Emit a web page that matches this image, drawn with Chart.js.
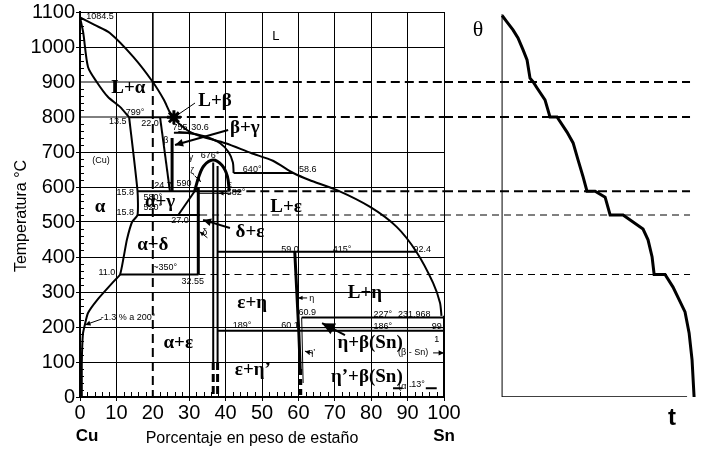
<!DOCTYPE html>
<html>
<head>
<meta charset="utf-8">
<script src="https://cdn.jsdelivr.net/npm/chart.js@4.4.1/dist/chart.umd.min.js"></script>
<style>
  html, body { margin: 0; padding: 0; background: #fff; }
  #wrap { position: relative; width: 710px; height: 455px; overflow: hidden; background: #fff; }
  #phase { position: absolute; left: 0; top: 0; }
  #cool { position: absolute; left: 444px; top: 0; }
</style>
</head>
<body>
<div id="wrap">
  <canvas id="phase" width="470" height="455"></canvas>
  <canvas id="cool" width="266" height="455"></canvas>
</div>
<script>
// ---- phase diagram data: [% Sn, temperature °C] ----
const liquidus = [[0,1084.5],[4,1063],[8.2,1040],[14.7,971],[20,900],[23,850],[25.5,799],[30.6,755],[40,725],[47,697],[53,675],[58.6,640],[63,620],[70.6,591],[79.7,543],[87,486],[92.4,415],[97,326],[98.9,269],[99.3,232]];
const alphaSolidus = [[0,1084.5],[0.9,1040],[2.2,943],[4.6,900],[7.7,857],[11,829],[13.5,799]];
const alphaSolvus = [[13.5,799],[15.8,588],[15.8,520],[14.3,500],[12.9,450],[12,400],[11,350],[9.6,334],[4.7,277],[2.2,240],[1.3,205],[0.8,180],[0.5,100],[0.5,0]];
const peritectic799 = [[13.5,799],[25.5,799]];
const grid800Left = [[0,800],[13.5,800]];
const grid900Left = [[0,900],[20,900]];
const grid20Top = [[20,1100],[20,900]];
const betaLeft = [[22,799],[24.7,588]];
const betaRight = [[25.3,740],[25.3,588]];
const peritectic755 = [[25.8,755],[30.6,755]];
const gammaCurve = [[27,757],[31,752],[35,742],[38.5,725],[40.8,700],[42,670],[42.2,640]];
const dome = [[31.5,588],[32.5,625],[34,660],[36.5,677],[39,662],[40.5,630],[41,588]];
const line640 = [[42.2,640],[58.6,640]];
const line588 = [[15.8,588],[38,588]];
const line582 = [[32.5,582],[41.5,582]];
const line520 = [[15.8,520],[33,520]];
const line350 = [[11,350],[32.55,350]];
const deltaLine = [[32.5,600],[32.5,350]];
const gammaDelta = [[27,520],[32.3,600]];
const epsLeft = [[36.6,670],[36.6,100]];
const epsRight = [[37.8,660],[37.8,100]];
const epsLeftLow = [[36.6,100],[36.6,0]];
const epsRightLow = [[37.8,100],[37.8,0]];
const line415 = [[37.8,415],[92.4,415]];
const etaThick = [[59,415],[60.1,189],[60.5,80]];
const etaLow = [[60.5,80],[60.5,0]];
const etaThin = [[60.9,227],[61.3,40]];
const line227 = [[60.9,227],[100,227]];
const line198 = [[61,198],[100,198]];
const line189 = [[37.8,189],[100,189]];
const snSide = [[100,232],[100,0]];
const dash13a = [[86,25],[88.5,25]];
const dash13b = [[95,25],[98,25]];
const alloyLine = [[20,900],[20,0]];
const star = [[25.8,799]];

// dashed temperature levels, also carried onto the cooling curve
const levelsThick = [900, 800, 588];
const levelsThin = [520, 350];
const levelStartThick = [20, 25.5, 38];
const levelStartThin = [33, 32.55];

// ---- cooling curve: time (arb. units), temperature °C ----
const coolTime = [0,2.7,5.9,8.6,11.4,13.5,15.1,16.8,18.9,23.2,25.9,29.7,35.1,38.4,41.1,43.8,45.9,50.3,55.7,58.4,65.4,70.8,76.2,78.9,81.1,82.2,88.1,92.4,98.9,101.1,102.7,103.8];
const coolTemp = [1090,1071,1049,1026,991,963,911,900,883,849,800,800,757,726,677,629,588,588,571,520,520,500,480,449,400,350,350,314,243,183,106,0];

// ---- labels [text, % Sn, °C] ----
const phaseLabels = [
  ['L+α',13.3,883],['L+β',37.1,846],['β+γ',45.3,769],['α',5.5,543],['α+γ',22,557],
  ['α+δ',20,434],['α+ε',27,154],['δ+ε',46.7,471],['L+ε',56.6,543],['ε+η',47.3,269],
  ['L+η',78.3,297],['η+β(Sn)',79.7,154],['ε+η’',47.5,77],['η’+β(Sn)',78.8,57]
];
const noteLabels = [
  ['1084.5',5.5,1086],['799°',15.1,814],['13.5',10.4,786],['22.0',19.2,780],['755',27.5,769],
  ['30.6',33,771],['(Cu)',5.8,677],['β',23.6,734],['γ',30.5,683],['ζ',30.8,643],['676°',35.7,689],
  ['640°',47.3,651],['58.6',62.6,649],['590',28.6,611],['24.7',22.8,603],['15.8',12.4,583],
  ['580°',20,571],['520°',20,540],['15.8',12.4,526],['27.0',27.5,503],['582°',42.9,583],['ε',41.2,608],
  ['11.0',7.4,357],['~350°',23.4,369],['32.55',31,329],['59.0',57.7,420],['415°',72,420],
  ['92.4',94,420],['60.9',62.4,240],['227°',83.2,237],['231.968',91.8,237],['189°',44.5,203],
  ['60.1',57.7,203],['186°',83.2,200],['99',98,200],['1',98,163],['(β - Sn)',91.5,126],
  ['13°',92.9,37],['(α -',89.3,31],['-1.3 % a 200°',13.2,226],['δ',34.3,471],['η',63.7,280],['η’',63.7,126]
];
const regionL = ['L',53.8,1031];

// ---- arrows [from %Sn, from °C, to %Sn, to °C] ----
const arrows = [
  [31.6,840,26.4,803],
  [40.7,763,26.1,720],
  [41.2,483,33.8,506],
  [72.8,177,66.5,211],
  [97,126,100,126],
  [62.4,283,59.9,283],
  [64,125,61.8,131],
  [6,223,1.4,206],
  [35,455,32.9,472],
  [40.5,582,38.2,582],
  [31.5,632,33.2,615]
];
const arrowHead = [0,9,9,14,6,5,5,6,5,5,5];

Chart.defaults.font.family = '"Liberation Sans", Arial, sans-serif';
Chart.defaults.color = '#000';

function seg(points, width, dash, tension) {
  return {
    data: points.map(p => ({ x: p[0], y: p[1] })),
    showLine: true,
    borderColor: '#000',
    backgroundColor: '#000',
    borderWidth: width,
    borderDash: dash || [],
    pointRadius: 0,
    tension: tension || 0,
    fill: false
  };
}

const thickDash = [9, 5];
const thinDash = [7, 5];

const phaseSets = [
  seg(liquidus, 2, null, 0.25),
  seg(alphaSolidus, 2, null, 0.25),
  seg(alphaSolvus, 2, null, 0.2),
  seg(peritectic799, 2),
  seg(grid800Left, 1),
  seg(grid900Left, 1),
  seg(grid20Top, 1),
  seg(alloyLine, 2, thickDash),
  seg(betaLeft, 2),
  seg(betaRight, 3),
  seg(peritectic755, 2),
  seg(gammaCurve, 2, null, 0.3),
  seg(dome, 3, null, 0.35),
  seg(line640, 2),
  seg(line588, 2),
  seg(line582, 1),
  seg(line520, 2),
  seg(line350, 2),
  seg(deltaLine, 3),
  seg(gammaDelta, 2),
  seg(epsLeft, 2),
  seg(epsRight, 2),
  seg(epsLeftLow, 3, [8, 4]),
  seg(epsRightLow, 3, [8, 4]),
  seg(line415, 2),
  seg(etaThick, 3),
  seg(etaLow, 4, [6, 4]),
  seg(etaThin, 1),
  seg(line227, 2),
  seg(line198, 1),
  seg(line189, 2),
  seg(snSide, 2),
  seg(dash13a, 2),
  seg(dash13b, 2)
];
levelsThick.forEach((t, i) => phaseSets.push(seg([[levelStartThick[i], t], [100, t]], 2, thickDash)));
levelsThin.forEach((t, i) => phaseSets.push(seg([[levelStartThin[i], t], [100, t]], 1, thinDash)));
phaseSets.push({
  data: star.map(p => ({ x: p[0], y: p[1] })),
  showLine: false, pointStyle: 'star', pointRadius: 7, borderWidth: 3,
  borderColor: '#000', backgroundColor: '#000'
});

function drawArrow(ctx, x1, y1, x2, y2, head) {
  ctx.beginPath();
  ctx.moveTo(x1, y1);
  ctx.lineTo(x2, y2);
  ctx.stroke();
  if (!head) return;
  const a = Math.atan2(y2 - y1, x2 - x1);
  ctx.beginPath();
  ctx.moveTo(x2, y2);
  ctx.lineTo(x2 - head * Math.cos(a - 0.45), y2 - head * Math.sin(a - 0.45));
  ctx.lineTo(x2 - head * Math.cos(a + 0.45), y2 - head * Math.sin(a + 0.45));
  ctx.closePath();
  ctx.fill();
}

const phaseDecor = {
  id: 'phaseDecor',
  afterDraw(chart) {
    const ctx = chart.ctx;
    const xs = chart.scales.x, ys = chart.scales.y;
    const area = chart.chartArea;
    ctx.save();
    ctx.strokeStyle = '#000';
    ctx.fillStyle = '#000';
    // minor ticks
    ctx.lineWidth = 1;
    for (let v = 2; v < 100; v += 2) {
      if (v % 10 === 0) continue;
      const px = Math.round(xs.getPixelForValue(v)) + 0.5;
      ctx.beginPath(); ctx.moveTo(px, area.bottom); ctx.lineTo(px, area.bottom - 5); ctx.stroke();
    }
    for (let v = 20; v < 1100; v += 20) {
      if (v % 100 === 0) continue;
      const py = Math.round(ys.getPixelForValue(v)) + 0.5;
      ctx.beginPath(); ctx.moveTo(area.left, py); ctx.lineTo(area.left + 4, py); ctx.stroke();
    }
    // arrows
    arrows.forEach((a, i) => {
      ctx.lineWidth = arrowHead[i] > 8 ? 2 : 1;
      drawArrow(ctx, xs.getPixelForValue(a[0]), ys.getPixelForValue(a[1]),
        xs.getPixelForValue(a[2]), ys.getPixelForValue(a[3]), arrowHead[i]);
    });
    // region labels
    ctx.textAlign = 'center';
    ctx.textBaseline = 'middle';
    ctx.font = 'bold 19px "Liberation Serif", "Times New Roman", serif';
    phaseLabels.forEach(l => ctx.fillText(l[0], xs.getPixelForValue(l[1]), ys.getPixelForValue(l[2])));
    ctx.font = '9px "Liberation Sans", Arial, sans-serif';
    noteLabels.forEach(l => ctx.fillText(l[0], xs.getPixelForValue(l[1]), ys.getPixelForValue(l[2])));
    ctx.font = '13px "Liberation Sans", Arial, sans-serif';
    ctx.fillText(regionL[0], xs.getPixelForValue(regionL[1]), ys.getPixelForValue(regionL[2]));
    // axis texts
    ctx.font = 'bold 17px "Liberation Sans", Arial, sans-serif';
    ctx.fillText('Cu', 87, 436);
    ctx.fillText('Sn', 444, 436);
    ctx.font = '16px "Liberation Sans", Arial, sans-serif';
    ctx.fillText('Porcentaje en peso de estaño', 252, 439);
    ctx.translate(22, 216);
    ctx.rotate(-Math.PI / 2);
    ctx.fillText('Temperatura °C', 0, 0);
    ctx.restore();
  }
};

new Chart(document.getElementById('phase'), {
  type: 'scatter',
  data: { datasets: phaseSets },
  options: {
    responsive: false,
    animation: false,
    events: [],
    layout: { padding: { left: 0, top: 12, right: 26, bottom: 0 } },
    plugins: { legend: { display: false }, tooltip: { enabled: false } },
    scales: {
      x: {
        type: 'linear', min: 0, max: 100,
        afterFit: s => { s.height = 58; },
        ticks: { stepSize: 10, color: '#000', font: { size: 20, lineHeight: 1 }, padding: 2, maxRotation: 0, autoSkip: false, callback: v => String(v) },
        grid: {
          color: c => (c.tick && c.tick.value === 20) ? 'rgba(0,0,0,0)' : '#000',
          lineWidth: 1, tickLength: 4
        },
        border: { color: '#000', width: 2 }
      },
      y: {
        type: 'linear', min: 0, max: 1100,
        afterFit: s => { s.width = 80; },
        ticks: { stepSize: 100, color: '#000', font: { size: 20, lineHeight: 1 }, padding: 1, autoSkip: false, callback: v => String(v) },
        grid: {
          color: c => (c.tick && (c.tick.value === 800 || c.tick.value === 900)) ? 'rgba(0,0,0,0)' : '#000',
          lineWidth: 1, tickLength: 4
        },
        border: { color: '#000', width: 2 }
      }
    }
  },
  plugins: [phaseDecor]
});

// ---- cooling curve chart ----
const coolSets = [
  seg([[0, 0], [0, 1094]], 1),
  seg([[0, 0], [100, 0]], 1.5),
  seg(coolTime.map((t, i) => [t, coolTemp[i]]), 3)
];
levelsThick.forEach(t => coolSets.push(seg([[-31.4, t], [101.6, t]], 2, thickDash)));
levelsThin.forEach(t => coolSets.push(seg([[-31.4, t], [101.6, t]], 1, thinDash)));

const coolDecor = {
  id: 'coolDecor',
  afterDraw(chart) {
    const ctx = chart.ctx;
    ctx.save();
    ctx.fillStyle = '#000';
    ctx.textAlign = 'center';
    ctx.textBaseline = 'middle';
    ctx.font = '22px "Liberation Serif", "Times New Roman", serif';
    ctx.fillText('θ', 34, 30);
    ctx.font = 'bold 24px "Liberation Sans", Arial, sans-serif';
    ctx.fillText('t', 228, 418);
    ctx.restore();
  }
};

new Chart(document.getElementById('cool'), {
  type: 'scatter',
  data: { datasets: coolSets },
  options: {
    responsive: false,
    animation: false,
    events: [],
    layout: { padding: { left: 0, top: 12, right: 0, bottom: 58 } },
    plugins: { legend: { display: false }, tooltip: { enabled: false } },
    scales: {
      x: { type: 'linear', display: false, min: -31.4, max: 112.4 },
      y: { type: 'linear', display: false, min: 0, max: 1100 }
    }
  },
  plugins: [coolDecor]
});
</script>
</body>
</html>
